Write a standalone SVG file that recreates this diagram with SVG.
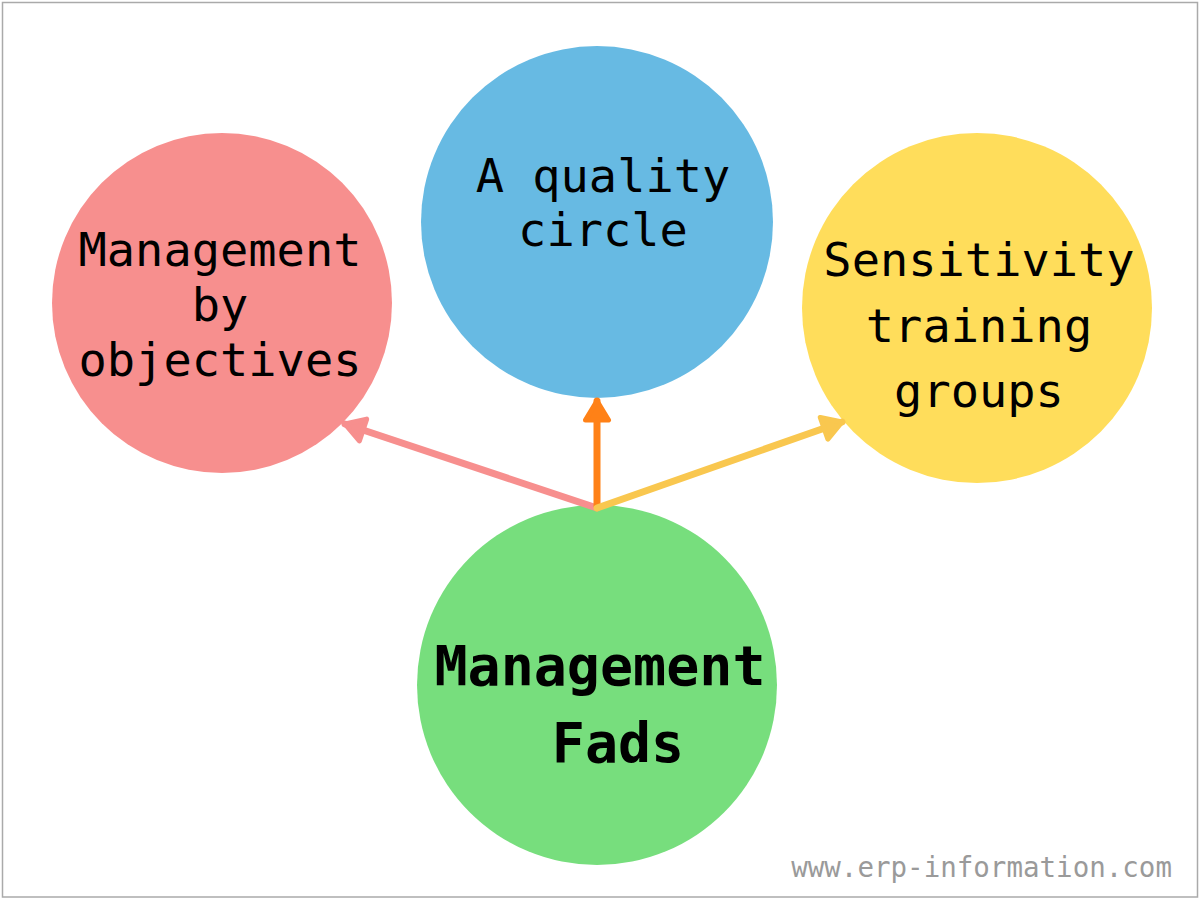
<svg xmlns="http://www.w3.org/2000/svg" width="1200" height="900" viewBox="0 0 1200 900">
<style>
.lbl{font-family:"DejaVu Sans Mono","Liberation Mono",monospace;font-size:47px;fill:#000;text-anchor:middle}
.big{font-family:"DejaVu Sans Mono","Liberation Mono",monospace;font-size:55px;font-weight:bold;fill:#000;text-anchor:middle}
.wm{font-family:"DejaVu Sans Mono","Liberation Mono",monospace;font-size:27.5px;fill:#9a9a9a;text-anchor:end}
.conn{fill:none;stroke-width:7;stroke-linecap:round}
</style>
<defs>
<marker id="hRed" markerUnits="userSpaceOnUse" viewBox="-22 -15 26 30" refX="0" refY="0" markerWidth="26" markerHeight="30" orient="auto" overflow="visible">
<path d="M-19,-11.5 L0,0 L-19,11.5 Z" fill="#F78F8E" stroke="#F78F8E" stroke-width="5" stroke-linejoin="round"/>
</marker>
<marker id="hOrange" markerUnits="userSpaceOnUse" viewBox="-22 -15 26 30" refX="0" refY="0" markerWidth="26" markerHeight="30" orient="auto" overflow="visible">
<path d="M-19,-11.5 L0,0 L-19,11.5 Z" fill="#FF8117" stroke="#FF8117" stroke-width="5" stroke-linejoin="round"/>
</marker>
<marker id="hYellow" markerUnits="userSpaceOnUse" viewBox="-22 -15 26 30" refX="0" refY="0" markerWidth="26" markerHeight="30" orient="auto" overflow="visible">
<path d="M-19,-11.5 L0,0 L-19,11.5 Z" fill="#F9C74F" stroke="#F9C74F" stroke-width="5" stroke-linejoin="round"/>
</marker>
</defs>
<rect x="0" y="0" width="1200" height="900" fill="#fff"/>
<rect x="2.5" y="2.5" width="1195" height="894.5" fill="none" stroke="#aaaaaa" stroke-width="1.5"/>
<g id="node-mbo">
<circle cx="222" cy="303" r="170" fill="#F78F8E"/>
<text class="lbl" x="220" y="266">Management</text>
<text class="lbl" x="220" y="321">by</text>
<text class="lbl" x="220" y="376">objectives</text>
</g>
<g id="node-quality">
<circle cx="597" cy="222" r="176" fill="#67BAE3"/>
<text class="lbl" x="603" y="192">A quality</text>
<text class="lbl" x="603" y="246">circle</text>
</g>
<g id="node-sensitivity">
<circle cx="977" cy="308" r="175" fill="#FFDD5B"/>
<text class="lbl" x="979" y="276">Sensitivity</text>
<text class="lbl" x="979" y="342">training</text>
<text class="lbl" x="979" y="407">groups</text>
</g>
<g id="node-fads">
<circle cx="597" cy="685" r="180" fill="#77DE7D"/>
<text class="big" x="600" y="685">Management</text>
<text class="big" x="618" y="762">Fads</text>
</g>
<g id="connectors">
<line class="conn" x1="597" y1="508" x2="345" y2="424" stroke="#F78F8E" marker-end="url(#hRed)"/>
<line class="conn" x1="597" y1="506" x2="597" y2="401" stroke="#FF8117" stroke-width="8" marker-end="url(#hOrange)"/>
<line class="conn" x1="597" y1="508" x2="842" y2="422" stroke="#F9C74F" marker-end="url(#hYellow)"/>
</g>
<text class="wm" x="1172" y="877">www.erp-information.com</text>
</svg>
